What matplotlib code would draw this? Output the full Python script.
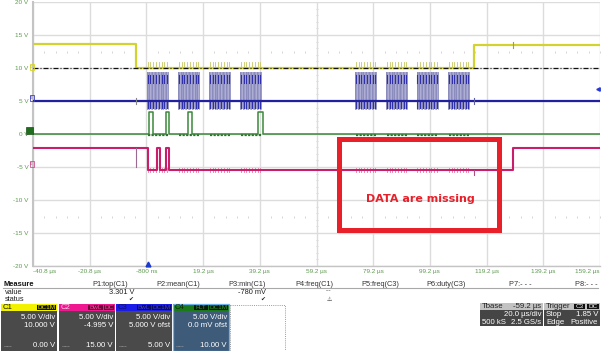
import matplotlib
matplotlib.use("Agg")
import matplotlib.pyplot as plt
from matplotlib.patches import Rectangle
import numpy as np

plt.rcParams['font.family'] = ['Liberation Sans', 'DejaVu Sans']

# ---------------- data ----------------
x_ticks = [-40.8, -20.8, -0.8, 19.2, 39.2, 59.2, 79.2, 99.2, 119.2, 139.2, 159.2]
x_labels = ["-40.8 µs", "-20.8 µs", "-800 ns", "19.2 µs", "39.2 µs", "59.2 µs",
            "79.2 µs", "99.2 µs", "119.2 µs", "139.2 µs", "159.2 µs"]
y_ticks = [20, 15, 10, 5, 0, -5, -10, -15, -20]
y_labels = ["20 V", "15 V", "10 V", "5 V", "0 V", "-5 V", "-10 V", "-15 V", "-20 V"]

# C1 (yellow)
c1_t = [-40.8, -4.5, -4.5, 114.8, 114.8, 159.2]
c1_v = [13.6, 13.6, 10.0, 10.0, 13.5, 13.5]
# C2 (magenta)
c2_t = [-40.8, -0.2, -0.2, 3.0, 3.0, 4.0, 4.0, 6.1, 6.1, 7.3, 7.3, 128.4, 128.4, 159.2]
c2_v = [-2.1, -2.1, -5.4, -5.4, -2.1, -2.1, -5.4, -5.4, -2.1, -2.1, -5.4, -5.4, -2.1, -2.1]
# C3 (blue) baseline and bursts
c3_t = [-40.8, 159.2]
c3_v = [5.0, 5.0]
burst_starts = [-0.7, 10.3, 21.3, 32.2, 72.8, 83.7, 94.5, 105.6]
burst_len = 7.9
pulses_per_burst = 8
burst_low, burst_high = 3.8, 9.4
# C4 (green)
c4_t = [-40.8, 0.1, 0.1, 1.5, 1.5, 6.0, 6.0, 7.2, 7.2, 13.9, 13.9, 15.3, 15.3,
        38.6, 38.6, 40.3, 40.3, 159.2]
c4_v = [0, 0, 3.3, 3.3, 0, 0, 3.3, 3.3, 0, 0, 3.3, 3.3, 0, 0, 3.3, 3.3, 0, 0]
ref_level = 10.0

# measurement table
meas_headers = ["P1:top(C1)", "P2:mean(C1)", "P3:min(C1)", "P4:freq(C1)",
                "P5:freq(C3)", "P6:duty(C3)", "P7:- - -", "P8:- - -"]
meas_values = ["3.301 V", "", "-780 mV", "---", "", "", "", ""]
meas_status = ["✔", "", "✔", "⚠", "", "", "", ""]

# ---------------- figure ----------------
W, H = 602, 351
fig = plt.figure(figsize=(W / 100, H / 100), dpi=100)
fig.patch.set_facecolor('white')

ax = fig.add_axes([33 / W, 1 - 266 / H, (600 - 33) / W, 264 / H])
ax.set_xlim(-40.8, 159.2)
ax.set_ylim(-20, 20)
ax.set_xticks(x_ticks)
ax.set_xticklabels(x_labels)
ax.set_yticks(y_ticks)
ax.set_yticklabels(y_labels)
ax.tick_params(length=0, labelsize=4.6, labelcolor='#5e9a50')
ax.tick_params(axis='x', pad=2)
ax.tick_params(axis='y', pad=3.2)
ax.grid(True, color='#dcdcdc', lw=1.0, zorder=0)
for s in ['top', 'right']:
    ax.spines[s].set_visible(False)
ax.spines['left'].set_color('#c4c4c4')
ax.spines['left'].set_linewidth(1.5)
ax.spines['bottom'].set_color('#c4c4c4')
ax.spines['bottom'].set_linewidth(1.0)
xl = ax.get_xticklabels()
xl[0].set_ha('left')
xl[-1].set_ha('right')

# minor graticule dots
mt = np.arange(-40.8, 159.3, 4.0)
for yv in (12.5, -12.5):
    ax.plot(mt, [yv] * len(mt), ls='none', marker='|', ms=2, mew=0.6, color='#cfcfcf', zorder=1)
mv = np.arange(-20, 20.1, 1.0)
ax.plot([59.2] * len(mv), mv, ls='none', marker='_', ms=2, mew=0.6, color='#cfcfcf', zorder=1)

# C3 bursts (lavender envelope + pulses)
for b in burst_starts:
    ax.fill_between([b, b + burst_len], burst_low, burst_high, color='#aeaed4', lw=0, zorder=2)
    step = burst_len / pulses_per_burst
    for k in range(pulses_per_burst):
        t0 = b + k * step
        ax.plot([t0, t0], [burst_low, burst_high], color='#8585b8', lw=0.6, zorder=3)
        ax.plot([t0 + step * 0.5, t0 + step * 0.5], [burst_low, burst_high], color='#9595c4', lw=0.5, zorder=3)
        ax.plot([t0 + step * 0.3, t0 + step * 0.3], [7.7, 9.0], color='#3030a8', lw=0.8, zorder=4)
        ax.plot([t0 + step * 0.3, t0 + step * 0.3], [3.9, 5.2], color='#3030a8', lw=0.8, zorder=4)
        # yellow noise on C1
        ax.plot([t0 + step * 0.3, t0 + step * 0.3], [10.0, 10.9], color='#c8c860', lw=0.6, zorder=5)
        # magenta noise on C2
        ax.plot([t0 + step * 0.3, t0 + step * 0.3], [-5.7, -5.1], color='#d87aa5', lw=0.6, zorder=5)
    # green noise during bursts
    ax.plot([b + 0.3, b + burst_len - 0.3], [-0.15, -0.15], color='#2f6f2f', lw=1.6,
            ls=(0, (1, 0.6)), zorder=5)

# traces
ax.plot(c3_t, c3_v, color='#2121a0', lw=1.6, zorder=4)
ax.plot(c1_t, c1_v, color='#d2d230', lw=1.6, zorder=5)
ax.plot(c4_t, c4_v, color='#3a873a', lw=1.1, zorder=5)
ax.plot(c2_t, c2_v, color='#c81e6c', lw=1.5, zorder=5)
ax.plot([-40.8, 159.2], [ref_level, ref_level], color='#111111', lw=0.9,
        ls=(0, (4, 1.6, 0.8, 1.6)), zorder=6)
# small markers on traces
ax.plot([-4.5, -4.5], [4.5, 5.5], color='#888888', lw=0.8, zorder=6)
ax.plot([-4.5, -4.5], [-2.1, -5.0], color='#9a6a90', lw=0.8, zorder=6)
ax.plot([128.4, 128.4], [13.1, 13.9], color='#a0a040', lw=0.8, zorder=6)
ax.plot([114.8, 114.8], [-5.4, -6.2], color='#b05080', lw=0.8, zorder=6)
ax.plot([114.8, 114.8], [4.6, 5.4], color='#6060a0', lw=0.8, zorder=6)

# red "missing" box
ax.add_patch(Rectangle((67.3, -14.6), 123.7 - 67.3, 14.6 - 0.83, fill=False,
                       edgecolor='#e8202a', lw=3.6, zorder=8, clip_on=False))
ax.text(95.7, -9.85, "DATA are missing", color='#e8202a', fontsize=8,
        fontweight='bold', family=['DejaVu Sans'], ha='center', va='center', zorder=9)

# ---------------- overlay in pixel coordinates ----------------
ov = fig.add_axes([0, 0, 1, 1], zorder=10)
ov.set_xlim(0, W)
ov.set_ylim(H, 0)
ov.axis('off')
ov.patch.set_alpha(0)

# channel markers at left edge and trigger marker
ov.add_patch(Rectangle((29.5, 64), 4, 6, fill=False, edgecolor='#d8d820', lw=0.6))
ov.text(31.6, 67, "C1", fontsize=1.9, color='#b8b820', ha='center', va='center')
ov.add_patch(Rectangle((29.5, 95), 4, 6, fill=False, edgecolor='#4040c0', lw=0.6))
ov.text(31.6, 98, "C3", fontsize=1.9, color='#3030b0', ha='center', va='center')
ov.add_patch(Rectangle((26, 127), 7, 7, facecolor='#1e6e1e', edgecolor='#145014', lw=0.5))
ov.add_patch(Rectangle((29.5, 161), 4, 6, fill=False, edgecolor='#d05090', lw=0.6))
ov.text(31.6, 164, "C2", fontsize=1.9, color='#c03080', ha='center', va='center')
ov.plot([148.3], [264], marker='^', ms=3.5, color='#1a3ad0', mec='#1a3ad0')
ov.plot([598], [89], marker='<', ms=2.5, color='#2a3ad0', mec='#2a3ad0')

# Measure table
tf = 5.3
ov.text(4, 284, "Measure", fontsize=5.4, fontweight='bold', color='#111', va='center')
meas_right = [128, 200, 266, 333, 399, 466, 532, 598]
for xr, hd in zip(meas_right, meas_headers):
    ov.text(xr, 284, hd, fontsize=tf, color='#333', ha='right', va='center')
ov.plot([3, 598], [288, 288], color='#a8a8a8', lw=0.8)
ov.text(5, 292, "value", fontsize=tf, color='#222', va='center')
ov.text(5, 299.5, "status", fontsize=tf, color='#222', va='center')
val_right = [134, 200, 266, 333, 399, 466, 532, 598]
for xr, val, st in zip(val_right, meas_values, meas_status):
    if val == "---":
        ov.text(xr - 4, 291, val, fontsize=4, color='#333', ha='center', va='center')
    elif val:
        ov.text(xr, 292, val, fontsize=tf, color='#222', ha='right', va='center')
    if st:
        ov.text(xr - 3 if st != "⚠" else xr - 4, 299.5, st, fontsize=4.2, color='#222',
                ha='center', va='center', family=['DejaVu Sans'])

# channel boxes
chans = [
    dict(x=1, name="C1", hc='#f2f200', nc='#111111', badges=["DC1M"], bc='#111111', btc='#e8e800',
         body='#4a4a4a', l1="5.00 V/div", l2="10.000 V", l3="0.00 V"),
    dict(x=59, name="C2", hc='#f01890', nc='#ffd0e8', badges=["BwL", "DC"], bc='#6a0a38', btc='#ff40a0',
         body='#4a4a4a', l1="5.00 V/div", l2="-4.995 V", l3="15.00 V"),
    dict(x=116, name="C3", hc='#1c1ce8', nc='#10106a', badges=["BwL", "DC1M"], bc='#0c0c60', btc='#3a3af0',
         body='#4a4a4a', l1="5.00 V/div", l2="5.000 V ofst", l3="5.00 V"),
    dict(x=173, name="C4", hc='#1a7a1a', nc='#0a2a0a', badges=["FLT", "DC1M"], bc='#0a1a0a', btc='#30a030',
         body='#3e5c7a', l1="5.00 V/div", l2="0.0 mV ofst", l3="10.00 V"),
]
bw = 56
for c in chans:
    x0 = c['x']
    ov.add_patch(Rectangle((x0, 311), bw, 40, facecolor=c['body'], edgecolor='none'))
    ov.add_patch(Rectangle((x0, 304), bw, 7, facecolor=c['hc'], edgecolor='none'))
    ov.text(x0 + 2, 307.6, c['name'], fontsize=5.6, color=c['nc'], va='center')
    xr = x0 + bw - 1
    for bd in reversed(c['badges']):
        wdt = 4.2 * len(bd) + 2
        ov.add_patch(Rectangle((xr - wdt, 304.6), wdt, 5.8, facecolor=c['bc'], edgecolor='none'))
        ov.text(xr - wdt / 2, 307.6, bd, fontsize=4.6, color=c['btc'], ha='center', va='center')
        xr -= wdt + 1
    ov.text(x0 + bw - 2, 317.8, c['l1'], fontsize=5.6, color='white', ha='right', va='center')
    ov.text(x0 + bw - 2, 325.6, c['l2'], fontsize=5.6, color='white', ha='right', va='center')
    ov.text(x0 + bw - 2, 345.6, c['l3'], fontsize=5.6, color='white', ha='right', va='center')
    ov.plot([x0 + 3, x0 + 10], [346, 346], color='#9a9a9a', lw=0.6, ls=(0, (1, 0.6)))
    if c['name'] == "C4":
        ov.add_patch(Rectangle((x0, 304), bw, 47, fill=False, edgecolor='#6cb0ea', lw=0.9))
ov.add_patch(Rectangle((230, 304.5), 55, 46, fill=False, edgecolor='#9a9a9a', lw=0.7, ls=(0, (1, 1.2))))

# timebase box
ov.add_patch(Rectangle((480, 303), 63, 7, facecolor='#c2c2c2', edgecolor='none'))
ov.add_patch(Rectangle((480, 310), 63, 16, facecolor='#454545', edgecolor='none'))
ov.text(482, 306.6, "Tbase", fontsize=5.6, color='#222', va='center')
ov.text(541, 306.6, "-59.2 µs", fontsize=5.6, color='#222', ha='right', va='center')
ov.text(541, 314.8, "20.0 µs/div", fontsize=5.6, color='white', ha='right', va='center')
ov.text(482, 322.4, "500 kS", fontsize=5.6, color='white', va='center')
ov.text(541, 322.4, "2.5 GS/s", fontsize=5.6, color='white', ha='right', va='center')
# trigger box
ov.add_patch(Rectangle((544, 303), 56, 7, facecolor='#c2c2c2', edgecolor='none'))
ov.add_patch(Rectangle((544, 310), 56, 16, facecolor='#454545', edgecolor='none'))
ov.text(546, 306.6, "Trigger", fontsize=5.6, color='#222', va='center')
ov.add_patch(Rectangle((574, 303.6), 11, 5.8, facecolor='#111', edgecolor='none'))
ov.text(579.5, 306.6, "C3", fontsize=4.6, color='white', ha='center', va='center')
ov.add_patch(Rectangle((587, 303.6), 12, 5.8, facecolor='#111', edgecolor='none'))
ov.text(593, 306.6, "DC", fontsize=4.6, color='white', ha='center', va='center')
ov.text(546, 314.8, "Stop", fontsize=5.6, color='white', va='center')
ov.text(598, 314.8, "1.85 V", fontsize=5.6, color='white', ha='right', va='center')
ov.text(546, 322.4, "Edge", fontsize=5.6, color='white', va='center')
ov.text(598, 322.4, "Positive", fontsize=5.6, color='white', ha='right', va='center')

fig.savefig("out.png", dpi=100)
